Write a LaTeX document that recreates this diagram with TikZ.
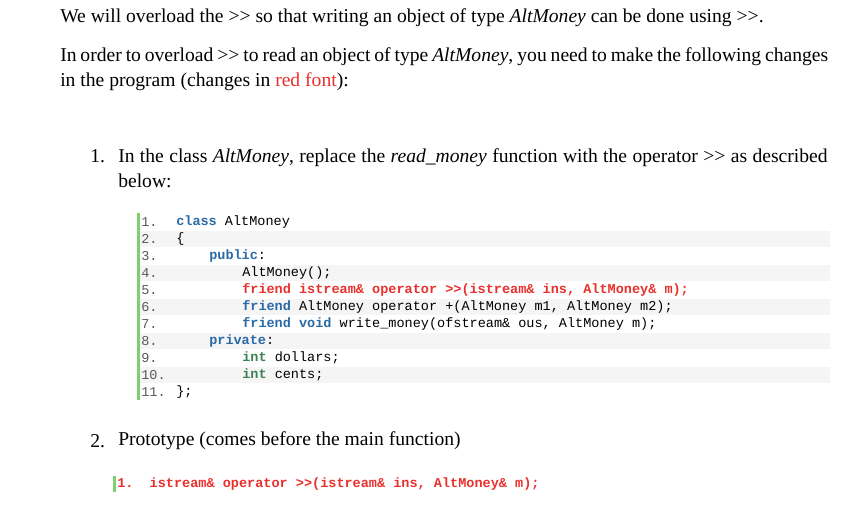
\documentclass[tikz,border=0pt]{standalone}
\usepackage{fontspec}
\setmainfont{Liberation Serif}
\setmonofont{Liberation Mono}
\begin{document}
\begin{tikzpicture}[x=0.75pt,y=-0.75pt,
  txt/.style={anchor=west,inner sep=0pt,font=\fontsize{14.7pt}{17pt}\selectfont},
  par/.style={anchor=north west,inner sep=0pt,align=justify,font=\fontsize{14.7pt}{18.75pt}\selectfont},
  cd/.style={anchor=west,inner sep=0pt,font=\ttfamily\fontsize{10.15pt}{12pt}\selectfont},
  ln/.style={cd,text=black!65}]
\definecolor{kw}{HTML}{2A6AA6}
\definecolor{ty}{HTML}{3C8254}
\definecolor{rd}{HTML}{E8302C}
\definecolor{bar}{HTML}{7ED06E}
\useasboundingbox (0,0) rectangle (844,520);
\node[txt] (t1) at (60,18) {We will overload the >{}> so that writing an object of type \textit{AltMoney} can be done using >{}>.};
\node[par,text width=576pt] (t2) at (60,47) {In order to overload >{}> to read an object of type \textit{AltMoney}, you need to make the following changes in the program (changes in {\color{rd}red font}):};
\node[txt] (n1) at (90,156) {1.};
\node[par,text width=532pt] (t3) at (118,148) {In the class \textit{AltMoney}, replace the \textit{read\_money} function with the operator >{}> as described below:};
% code block
\foreach \i in {2,4,6,8,10}{\fill[black!4] (140,{205+17*\i-8}) rectangle (830,{205+17*\i+8});}
\fill[bar] (137,213) rectangle (140,400);
\foreach \i in {1,...,11}{\node[ln] (l\i) at (141,{205+17*\i}) {\i.};}
\node[cd] (c1) at (176,222) {\textbf{\color{kw}class} AltMoney};
\node[cd] (c2) at (176,239) {\{};
\node[cd] (c3) at (209,256) {\textbf{\color{kw}public}:};
\node[cd] (c4) at (242,273) {AltMoney();};
\node[cd,text=rd] (c5) at (242,290) {\textbf{friend istream\& operator >>(istream\& ins, AltMoney\& m);}};
\node[cd] (c6) at (242,307) {\textbf{\color{kw}friend} AltMoney operator +(AltMoney m1, AltMoney m2);};
\node[cd] (c7) at (242,324) {\textbf{\color{kw}friend void} write\_money(ofstream\& ous, AltMoney m);};
\node[cd] (c8) at (209,341) {\textbf{\color{kw}private}:};
\node[cd] (c9) at (242,358) {\textbf{\color{ty}int} dollars;};
\node[cd] (c10) at (242,375) {\textbf{\color{ty}int} cents;};
\node[cd] (c11) at (176,392) {\};};
\node[txt] (n2) at (90,441) {2.};
\node[txt] (t4) at (118,441) {Prototype (comes before the main function)};
\fill[bar] (113,476) rectangle (116,492);
\node[cd,text=rd] (p1) at (117,484) {\textbf{1.\ \ istream\& operator >>(istream\& ins, AltMoney\& m);}};
\end{tikzpicture}
\end{document}
